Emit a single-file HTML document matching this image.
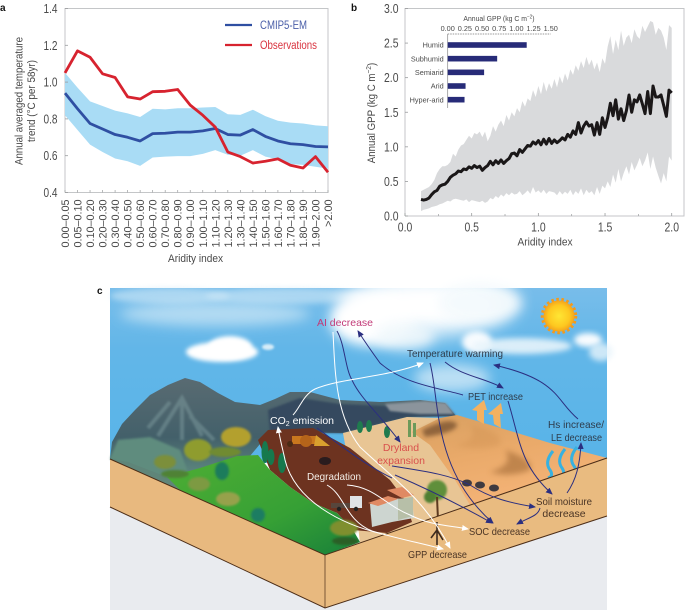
<!DOCTYPE html>
<html lang="en">
<head>
<meta charset="utf-8">
<title>Dryland aridity figure</title>
<style>
html,body{margin:0;padding:0;background:#fff;}
#root{position:relative;width:685px;height:610px;overflow:hidden;background:#fff;}
svg{position:absolute;left:0;top:0;}
text{font-family:"Liberation Sans",sans-serif;}
</style>
</head>
<body>
<div id="root">
<svg id="fig" width="685" height="610" viewBox="0 0 685 610" xmlns="http://www.w3.org/2000/svg">
<defs>
<filter id="b1" x="-30%" y="-30%" width="160%" height="160%"><feGaussianBlur stdDeviation="1"/></filter>
<filter id="b2" x="-30%" y="-30%" width="160%" height="160%"><feGaussianBlur stdDeviation="2"/></filter>
<filter id="b3" x="-30%" y="-30%" width="160%" height="160%"><feGaussianBlur stdDeviation="3"/></filter>
<filter id="b6" x="-30%" y="-50%" width="160%" height="200%"><feGaussianBlur stdDeviation="6"/></filter>
<filter id="b10" x="-30%" y="-60%" width="160%" height="220%"><feGaussianBlur stdDeviation="10"/></filter>
<linearGradient id="sky" x1="0" y1="0" x2="0" y2="1"><stop offset="0" stop-color="#78bdea"/><stop offset=".35" stop-color="#62b6e8"/><stop offset="1" stop-color="#58b4e8"/></linearGradient>
<linearGradient id="mt" x1="0" y1="0" x2="0" y2="1"><stop offset="0" stop-color="#596b72"/><stop offset=".6" stop-color="#43606a"/><stop offset="1" stop-color="#5f8a80"/></linearGradient>
<linearGradient id="grass" x1="0" y1="0" x2="1" y2="1"><stop offset="0" stop-color="#4fae34"/><stop offset=".6" stop-color="#36a035"/><stop offset="1" stop-color="#187f3a"/></linearGradient>
<linearGradient id="dune" x1="0" y1="0" x2="0.5" y2="1"><stop offset="0" stop-color="#d79f60"/><stop offset=".5" stop-color="#eaaa6a"/><stop offset="1" stop-color="#f5b478"/></linearGradient>
<radialGradient id="sun"><stop offset="0" stop-color="#ffe634"/><stop offset="0.7" stop-color="#fdc820"/><stop offset="1" stop-color="#f4a41c"/></radialGradient>
<marker id="ah-navy" markerWidth="7" markerHeight="6" refX="6" refY="3" orient="auto" markerUnits="userSpaceOnUse"><path d="M0 0L7 3L0 6z" fill="#2b2f80"/></marker>
<marker id="ah-white" markerWidth="7" markerHeight="6" refX="6" refY="3" orient="auto" markerUnits="userSpaceOnUse"><path d="M0 0L7 3L0 6z" fill="#fff"/></marker>
</defs>

<!-- Panel letters -->
<text x="0" y="11" font-size="10" font-weight="700" fill="#111">a</text>
<text x="351" y="11" font-size="10" font-weight="700" fill="#111">b</text>
<text x="97" y="294" font-size="10" font-weight="700" fill="#111">c</text>

<g id="panelA"></g>
<g id="panelB"></g>

<!-- Panel c illustration -->
<g id="panelC">
  <polygon points="110,507 325,608 607,516 607,610 110,610" fill="#e9ebef"/>
  <rect x="110" y="288" width="497" height="175" fill="url(#sky)"/>
  <g>
    <ellipse cx="215" cy="314" rx="95" ry="12" fill="#d6ecf8" opacity=".65" filter="url(#b6)"/>
    <ellipse cx="170" cy="296" rx="60" ry="8" fill="#cfe8f7" opacity=".6" filter="url(#b3)"/>
    <ellipse cx="285" cy="296" rx="80" ry="8" fill="#cfe8f7" opacity=".6" filter="url(#b3)"/>
    <ellipse cx="425" cy="305" rx="85" ry="30" fill="#fff" filter="url(#b10)"/>
    <ellipse cx="372" cy="320" rx="42" ry="26" fill="#fff" filter="url(#b6)"/>
    <ellipse cx="480" cy="303" rx="42" ry="20" fill="#f4fafd" opacity=".95" filter="url(#b6)"/>
    <ellipse cx="405" cy="336" rx="30" ry="14" fill="#f0f8fc" opacity=".9" filter="url(#b6)"/>
    <ellipse cx="477" cy="342" rx="15" ry="11" fill="#f7fbfe" filter="url(#b3)"/>
    <ellipse cx="522" cy="346" rx="50" ry="8" fill="#e8f4fb" opacity=".9" filter="url(#b3)"/>
    <ellipse cx="588" cy="340" rx="14" ry="7" fill="#f7fbfe" filter="url(#b3)"/>
    <ellipse cx="601" cy="352" rx="12" ry="9" fill="#e8f4fb" opacity=".8" filter="url(#b3)"/>
    <ellipse cx="452" cy="378" rx="38" ry="14" fill="#c4e3f6" opacity=".9" filter="url(#b6)"/>
    <ellipse cx="222" cy="352" rx="36" ry="10" fill="#fff" filter="url(#b2)"/>
    <ellipse cx="230" cy="347" rx="22" ry="11" fill="#fff" filter="url(#b2)"/>
    <ellipse cx="268" cy="347" rx="6" ry="3" fill="#d6ecf8" filter="url(#b1)"/>
  </g>
  <g>
    <circle cx="559" cy="316" r="16.5" fill="none" stroke="#f29a1c" stroke-width="3.5" stroke-dasharray="2.5 2.5"/>
    <circle cx="559" cy="316" r="15.5" fill="url(#sun)"/>
  </g>
  <polygon points="110,459 112,442 122,424 135,410 150,395 168,385 185,378 200,382 218,393 235,402 260,405 275,399 290,392 310,392 340,400 380,402 420,400 445,403 456,416 407,417 387,422 343,433 270,432 250,456 167,477" fill="url(#mt)"/>
  <polygon points="270,432 268,410 300,398 340,404 385,406 425,404 446,405 456,416 407,417 387,422 343,433" fill="#34495f" filter="url(#b1)"/>
  <polygon points="385,404 425,401 446,403 454,414 420,414 390,411" fill="#8b949c" filter="url(#b1)"/>
  <path d="M158 436 L182 398 L202 436 M190 416 L214 440 M148 428 L170 402 M182 398 L182 440" stroke="#84a2a4" stroke-width="4" fill="none" opacity=".45" filter="url(#b1)"/>
  <polygon points="110,459 118,440 150,437 180,450 190,478 165,478" fill="#5f8c7e" filter="url(#b1)"/>
  <polygon points="343,433 387,422 407,417 440,418 450,440 470,490 470,505 412,525 387,534 360,543 355,500" fill="#e8c594"/>
  <polygon points="412,432 440,418 457,415 507,430 550,443 607,458 470,505 455,480 430,445" fill="url(#dune)"/>
  <path d="M422 430 Q450 416 457 424 Q458 432 425 437z" fill="#7d5530" opacity=".8" filter="url(#b2)"/>
  <path d="M505 450 Q535 460 530 470 Q510 478 490 472 Q515 465 505 450z" fill="#a86f3a" opacity=".65" filter="url(#b3)"/>
  <path d="M470 425 Q505 432 500 445 Q480 452 455 445 Q480 440 470 425z" fill="#c98a4c" opacity=".3" filter="url(#b3)"/>
  <polygon points="258,440 268,430 313,428 350,448 390,480 405,500 412,522 387,533 353,530 337,513 313,503 290,487 270,470" fill="#6d3320"/>
  <polygon points="167,477 200,468 237,456 258,455 270,470 290,487 313,503 337,513 353,530 360,542 325,555 172,487" fill="url(#grass)"/>
  <polygon points="110,459 128,462 167,477 180,490 172,487" fill="#5f8579"/>
  <g>
    <ellipse cx="198" cy="450" rx="14" ry="11" fill="#8f9c2e" filter="url(#b1)"/>
    <ellipse cx="236" cy="437" rx="15" ry="10" fill="#b3a02e" filter="url(#b1)"/>
    <ellipse cx="225" cy="452" rx="16" ry="5" fill="#6f8b30" filter="url(#b1)"/>
    <ellipse cx="165" cy="462" rx="11" ry="7" fill="#7c8f3a" filter="url(#b1)"/>
    <ellipse cx="175" cy="474" rx="14" ry="4" fill="#4f8236" filter="url(#b1)"/>
    <ellipse cx="222" cy="471" rx="7" ry="9" fill="#1d7c5c" filter="url(#b1)"/>
    <circle cx="258" cy="515" r="7" fill="#1f7d62" filter="url(#b1)"/>
    <ellipse cx="199" cy="484" rx="11" ry="7" fill="#7d9a42" filter="url(#b1)"/>
    <ellipse cx="228" cy="499" rx="12" ry="7" fill="#96a14c" filter="url(#b1)"/>
    <ellipse cx="265" cy="452" rx="3.5" ry="11" fill="#16794d"/>
    <ellipse cx="271" cy="457" rx="3.5" ry="8" fill="#16794d"/>
    <ellipse cx="282" cy="463" rx="4" ry="10" fill="#16794d"/>
    <ellipse cx="360" cy="427" rx="3" ry="6" fill="#1f7b4e"/>
    <ellipse cx="369" cy="426" rx="3" ry="6" fill="#1f7b4e"/>
    <ellipse cx="387" cy="432" rx="3" ry="6" fill="#1f7b4e"/>
    <rect x="408" y="420" width="3" height="17" fill="#6d9a5a"/>
    <rect x="413" y="423" width="3" height="14" fill="#6d9a5a"/>
    <ellipse cx="344" cy="528" rx="14" ry="8" fill="#7f8f2f" filter="url(#b1)"/>
    <ellipse cx="345" cy="541" rx="13" ry="4" fill="#2a5f26" filter="url(#b1)"/>
  </g>
  <g>
    <rect x="292" y="436" width="24" height="8" fill="#c9771e"/>
    <circle cx="306" cy="441" r="6" fill="#b5641a"/>
    <circle cx="290" cy="444" r="3" fill="#4a2a14"/>
    <polygon points="316,435 330,446 314,446" fill="#d9a02e"/>
  </g>
  <ellipse cx="325" cy="461" rx="6" ry="4" fill="#2a1c1e"/>
  <g>
    <rect x="331" y="503" width="19" height="5" fill="#57463c"/>
    <rect x="350" y="496" width="12" height="12" fill="#dfe3e6"/>
    <circle cx="356" cy="509" r="2.2" fill="#222"/>
    <circle cx="339" cy="509" r="2.2" fill="#222"/>
  </g>
  <g>
    <polygon points="370,504 392,498 412,500 414,518 392,522 372,527" fill="#cdd5d0"/>
    <polygon points="368,503 388,496 398,499 378,506" fill="#e08a63"/>
    <polygon points="387,490 402,487 414,495 402,498" fill="#e08a63"/>
    <polygon points="398,499 413,497 413,516 398,520" fill="#b7bfa8"/>
  </g>
  <g>
    <circle cx="437" cy="490" r="10" fill="#5f8f3a" filter="url(#b1)"/>
    <circle cx="430" cy="497" r="6" fill="#4f7f33" filter="url(#b1)"/>
    <path d="M437 497 L438 520" stroke="#5d3a20" stroke-width="2"/>
  </g>
  <g fill="#3f3a40">
    <ellipse cx="467" cy="483" rx="5" ry="3.5"/><ellipse cx="480" cy="485" rx="5" ry="3.5"/><ellipse cx="494" cy="488" rx="5" ry="3.5"/>
  </g>
  <g>
    <path d="M484 400 L472 410 L477 411 L477 420 L484 424 L484 410 L487 410z" fill="#f3b160"/>
    <path d="M501 403 L488 414 L493 415 L494 424 L501 428 L500 414 L503 414z" fill="#f3b160"/>
  </g>
  <g stroke="#37b1e0" stroke-width="3" fill="none">
    <path d="M553 451 Q544 462 550 470 Q554 476 548 478"/>
    <path d="M565 449 Q556 460 562 468 Q566 474 560 477"/>
    <path d="M577 447 Q568 458 574 466 Q578 472 572 475"/>
  </g>
  <polygon points="110,459 325,555 325,608 110,507" fill="#e8b97f"/>
  <polygon points="325,555 607,458 607,516 325,608" fill="#e9bb80"/>
  <g stroke="#4c2d17" fill="none">
    <path d="M110 459 L325 555 L607 458" stroke-width="1"/>
    <path d="M110 507 L325 608 L607 516" stroke-width="1"/>
    <path d="M325 555 L325 608" stroke-width=".7"/>
  </g>
  <path d="M437 522 L437 545 M437 530 L431 538 M437 530 L443 540" stroke="#3d2a1e" stroke-width="1.6" fill="none"/>

  <g fill="none" stroke="#2b2f80" stroke-width="1">
    <path d="M463 395 C440 388 405 385 380 363 C372 352 365 342 358 331" marker-end="url(#ah-navy)"/>
    <path d="M337 331 C345 345 345 368 352 380 C360 398 380 415 400 442" marker-end="url(#ah-navy)"/>
    <path d="M445 362 C462 376 485 378 503 388" marker-end="url(#ah-navy)"/>
    <path d="M430 363 C440 400 432 470 493 523" marker-end="url(#ah-navy)"/>
    <path d="M508 401 C520 440 520 465 552 494" marker-end="url(#ah-navy)"/>
    <path d="M567 493 C576 480 580 465 581 443" marker-end="url(#ah-navy)"/>
    <path d="M578 419 C555 400 560 380 494 365" marker-end="url(#ah-navy)"/>
    <path d="M540 508 C538 516 530 517 517 524" marker-end="url(#ah-navy)"/>
    <path d="M392 466 C430 472 450 475 470 485 C490 498 510 503 535 507" marker-end="url(#ah-navy)"/>
    <path d="M395 475 C430 490 460 505 492 523" marker-end="url(#ah-navy)"/>
    <path d="M317 428 C340 445 365 465 392 478"/>
  </g>
  <g fill="none" stroke="#fff" stroke-width="1">
    <path d="M293 415 C300 408 303 395 315 389 C340 378 385 378 423 363" marker-end="url(#ah-white)"/>
    <path d="M333 332 C335 370 335 415 360 447 C395 480 425 500 450 548" marker-end="url(#ah-white)"/>
    <path d="M327 485 C345 495 345 520 372 531 C395 538 420 543 443 549" marker-end="url(#ah-white)"/>
    <path d="M347 485 C375 487 385 505 410 515 C430 525 445 525 468 529" marker-end="url(#ah-white)"/>
    <path d="M387 535 C340 525 295 500 285 460 C283 450 280 440 278 427" marker-end="url(#ah-white)"/>
  </g>
  <g font-size="10.5">
    <text x="345" y="326" text-anchor="middle" fill="#c23a78">AI decrease</text>
    <text x="407" y="357" fill="#2e3c4c" textLength="96" lengthAdjust="spacingAndGlyphs">Temperature warming</text>
    <text x="468" y="400" fill="#2e3c4c" textLength="55" lengthAdjust="spacingAndGlyphs">PET increase</text>
    <text x="548" y="428" fill="#2e3c4c" textLength="56" lengthAdjust="spacingAndGlyphs">Hs increase/</text>
    <text x="551" y="441" fill="#2e3c4c" textLength="51" lengthAdjust="spacingAndGlyphs">LE decrease</text>
    <text x="401" y="451" text-anchor="middle" fill="#d9504c">Dryland</text>
    <text x="401" y="464" text-anchor="middle" fill="#d9504c">expansion</text>
    <text x="270" y="424" fill="#fff">CO<tspan font-size="7" dy="2">2</tspan><tspan dy="-2"> emission</tspan></text>
    <text x="307" y="480" fill="#f4efe8" textLength="54" lengthAdjust="spacingAndGlyphs">Degradation</text>
    <text x="536" y="505" fill="#4a3424" textLength="56" lengthAdjust="spacingAndGlyphs">Soil moisture</text>
    <text x="564" y="517" text-anchor="middle" fill="#4a3424">decrease</text>
    <text x="469" y="535" fill="#4a3424" textLength="61" lengthAdjust="spacingAndGlyphs">SOC decrease</text>
    <text x="408" y="558" fill="#4a3424" textLength="59" lengthAdjust="spacingAndGlyphs">GPP decrease</text>
  </g>
</g>
</svg>
</div>
<script>
// Panel a data
const aCategories = ["0.00–0.05","0.05–0.10","0.10–0.20","0.20–0.30","0.30–0.40","0.40–0.50","0.50–0.60","0.60–0.70","0.70–0.80","0.80–0.90","0.90–1.00","1.00–1.10","1.10–1.20","1.20–1.30","1.30–1.40","1.40–1.50","1.50–1.60","1.60–1.70","1.70–1.80","1.80–1.90","1.90–2.00",">2.00"];
const cmipMean = [0.94,0.855,0.775,0.745,0.715,0.70,0.68,0.72,0.722,0.728,0.728,0.735,0.748,0.715,0.712,0.742,0.705,0.68,0.665,0.66,0.65,0.648];
const cmipUpper = [1.05,0.97,0.895,0.87,0.845,0.83,0.81,0.855,0.852,0.858,0.858,0.862,0.865,0.825,0.822,0.85,0.815,0.79,0.78,0.775,0.765,0.76];
const cmipLower = [0.82,0.74,0.66,0.62,0.585,0.57,0.545,0.59,0.595,0.598,0.598,0.61,0.63,0.605,0.60,0.63,0.595,0.58,0.555,0.55,0.54,0.53];
const observations = [1.05,1.17,1.135,1.045,1.025,0.92,0.908,0.948,0.95,0.96,0.875,0.82,0.755,0.62,0.595,0.56,0.57,0.583,0.548,0.533,0.595,0.51];
const aYTicks = ["0.4","0.6","0.8","1.0","1.2","1.4"];

// Panel b data
const gppAridity = [0.12,0.14,0.16,0.18,0.20,0.22,0.24,0.26,0.28,0.30,0.32,0.34,0.36,0.38,0.40,0.42,0.44,0.46,0.48,0.50,0.52,0.54,0.56,0.58,0.60,0.62,0.64,0.66,0.68,0.70,0.72,0.74,0.76,0.78,0.80,0.82,0.84,0.86,0.88,0.90,0.92,0.94,0.96,0.98,1.00,1.02,1.04,1.06,1.08,1.10,1.12,1.14,1.16,1.18,1.20,1.22,1.24,1.26,1.28,1.30,1.32,1.34,1.36,1.38,1.40,1.42,1.44,1.46,1.48,1.50,1.52,1.54,1.56,1.58,1.60,1.62,1.64,1.66,1.68,1.70,1.72,1.74,1.76,1.78,1.80,1.82,1.84,1.86,1.88,1.90,1.92,1.94,1.96,1.98,2.00];
const gppMean = [0.24,0.23,0.24,0.26,0.31,0.35,0.37,0.43,0.45,0.46,0.50,0.56,0.59,0.61,0.65,0.64,0.68,0.67,0.71,0.69,0.73,0.70,0.72,0.66,0.70,0.73,0.79,0.74,0.80,0.76,0.81,0.76,0.80,0.83,0.90,0.91,0.87,0.96,0.92,0.97,1.02,1.01,1.07,1.04,1.09,1.03,1.11,1.04,1.12,1.05,1.10,1.06,1.09,1.13,1.10,1.18,1.14,1.23,1.18,1.35,1.20,1.30,1.36,1.30,1.32,1.17,1.35,1.18,1.42,1.28,1.42,1.63,1.45,1.68,1.40,1.55,1.38,1.52,1.75,1.50,1.68,1.65,1.75,1.62,1.48,1.80,1.48,1.88,1.72,1.72,1.75,1.60,1.44,1.82,1.78];
const gppUpper = [0.36,0.38,0.40,0.42,0.46,0.52,0.62,0.68,0.72,0.72,0.74,0.78,0.90,0.86,0.96,1.02,1.04,1.10,1.16,1.12,1.20,1.18,1.22,1.14,1.22,1.08,1.16,1.30,1.22,1.32,1.38,1.30,1.46,1.38,1.50,1.44,1.56,1.50,1.66,1.58,1.70,1.66,1.82,1.72,1.88,1.76,1.94,1.80,1.92,1.84,1.98,1.86,2.02,1.92,2.06,1.96,2.12,2.04,2.18,2.10,2.24,2.14,2.30,2.18,2.26,2.12,2.22,2.08,2.28,2.20,2.45,2.60,2.34,2.55,2.40,2.68,2.46,2.58,2.62,2.50,2.70,2.60,2.56,2.75,2.66,2.74,2.82,2.80,2.62,2.72,2.68,2.58,2.40,2.76,2.72];
const gppLower = [0.07,0.09,0.10,0.11,0.13,0.14,0.15,0.17,0.18,0.20,0.22,0.21,0.24,0.25,0.24,0.23,0.22,0.24,0.20,0.23,0.22,0.21,0.20,0.22,0.19,0.21,0.26,0.24,0.29,0.26,0.31,0.28,0.33,0.30,0.34,0.31,0.32,0.36,0.30,0.33,0.37,0.32,0.42,0.34,0.37,0.33,0.38,0.32,0.36,0.35,0.34,0.30,0.36,0.31,0.35,0.32,0.38,0.30,0.36,0.32,0.40,0.30,0.38,0.33,0.36,0.30,0.42,0.32,0.44,0.40,0.50,0.42,0.60,0.48,0.68,0.50,0.62,0.72,0.60,0.78,0.66,0.74,0.84,0.72,0.80,0.92,0.68,0.86,0.70,0.58,0.47,0.62,0.50,0.86,0.80];
const bXTicks = ["0.0","0.5","1.0","1.5","2.0"];
const bYTicks = ["0.0","0.5","1.0","1.5","2.0","2.5","3.0"];

// Inset data
const insetCategories = ["Humid","Subhumid","Semiarid","Arid","Hyper-arid"];
const insetValues = [1.15,0.72,0.53,0.26,0.245];
const insetTicks = ["0.00","0.25","0.50","0.75","1.00","1.25","1.50"];

const NS = "http://www.w3.org/2000/svg";
function mk(parent, tag, attrs, txt) {
  const el = document.createElementNS(NS, tag);
  for (const k in attrs) el.setAttribute(k, attrs[k]);
  if (txt !== undefined) el.textContent = txt;
  parent.appendChild(el);
  return el;
}
function pathOf(xs, ys) {
  return xs.map((x, i) => (i ? "L" : "M") + x.toFixed(2) + " " + ys[i].toFixed(2)).join(" ");
}

/* ---------- Panel a ---------- */
const pa = document.getElementById("panelA");
const aLeft = 65, aRight = 328, aTop = 8.5, aBottom = 192.5;
const xA = i => aLeft + i * (aRight - aLeft) / (aCategories.length - 1);
const yA = v => aBottom - (v - 0.4) * (aBottom - aTop) / 1.0;

const aFrame = mk(pa, "path", {d:`M${aLeft} ${aBottom} V${aTop} H${aRight} V${aBottom} H${aLeft}`, fill:"none", stroke:"#c4c6c8", "stroke-width":1});



const aIdx = cmipUpper.map((_, i) => i);
const aBand = mk(pa, "path", {d: pathOf(aIdx.map(xA), cmipUpper.map(yA)) + " " + pathOf(aIdx.slice().reverse().map(xA), cmipLower.slice().reverse().map(yA)).replace("M","L") + " Z", fill:"#a9dcf5"});



const aMean = mk(pa, "path", {d: pathOf(aIdx.map(xA), cmipMean.map(yA)), fill:"none", stroke:"#2f4fa2", "stroke-width":2.8, "stroke-linejoin":"round"});



const aObs = mk(pa, "path", {d: pathOf(aIdx.map(xA), observations.map(yA)), fill:"none", stroke:"#d7232f", "stroke-width":2.8, "stroke-linejoin":"round"});



aYTicks.forEach(t => {
  const y = yA(parseFloat(t));
  const tk = mk(pa, "line", {x1:aLeft, x2:aLeft+3, y1:y, y2:y, stroke:"#9a9c9e", "stroke-width":0.8});
  
  
  const lb = mk(pa, "text", {x:aLeft-21.5, y:y+4.5, "font-size":12.5, fill:"#4a4a4a", textLength:14, lengthAdjust:"spacingAndGlyphs"}, t);
  
  
});
aCategories.forEach((c, i) => {
  const x = xA(i);
  const tk = mk(pa, "line", {x1:x, x2:x, y1:aBottom, y2:aBottom-2.5, stroke:"#9a9c9e", "stroke-width":0.7});
  
  
  const lb = mk(pa, "text", {x:x+4, y:aBottom+7, "text-anchor":"end", "font-size":10.8, fill:"#4a4a4a", transform:`rotate(-90 ${x+4} ${aBottom+7})`}, c);
  
  
});
const aXT = mk(pa, "text", {x:168, y:262, "font-size":11, fill:"#4a4a4a", textLength:55, lengthAdjust:"spacingAndGlyphs"}, "Aridity index");


const aY1 = mk(pa, "text", {x:22.5, y:165, "font-size":11, fill:"#4a4a4a", textLength:128, lengthAdjust:"spacingAndGlyphs", transform:"rotate(-90 22.5 165)"}, "Annual averaged temperature");


const aY2 = mk(pa, "text", {x:35, y:142, "font-size":11, fill:"#4a4a4a", textLength:82, lengthAdjust:"spacingAndGlyphs", transform:"rotate(-90 35 142)"}, "trend (°C per 58yr)");



const lg1 = mk(pa, "line", {x1:225, x2:252, y1:25, y2:25, stroke:"#2f4fa2", "stroke-width":2.2});


const lg1t = mk(pa, "text", {x:260, y:29, "font-size":11.5, fill:"#4a5ea8", textLength:47, lengthAdjust:"spacingAndGlyphs"}, "CMIP5-EM");


const lg2 = mk(pa, "line", {x1:225, x2:252, y1:45, y2:45, stroke:"#d7232f", "stroke-width":2.2});


const lg2t = mk(pa, "text", {x:260, y:49, "font-size":11.5, fill:"#d9333f", textLength:57, lengthAdjust:"spacingAndGlyphs"}, "Observations");



/* ---------- Panel b ---------- */
const pb = document.getElementById("panelB");
const bLeft = 405, bRight = 684, bTop = 8.5, bBottom = 216;
const xB = v => bLeft + v * 133.35;
const yB = v => bBottom - v * (bBottom - bTop) / 3;

const bFrame = mk(pb, "path", {d:`M${bLeft} ${bBottom} V${bTop} H${bRight} V${bBottom} H${bLeft}`, fill:"none", stroke:"#c4c6c8", "stroke-width":1});



const bBand = mk(pb, "path", {d: pathOf(gppAridity.map(xB), gppUpper.map(yB)) + " " + pathOf(gppAridity.slice().reverse().map(xB), gppLower.slice().reverse().map(yB)).replace("M","L") + " Z", fill:"#d9dadc"});



const bMean = mk(pb, "path", {d: pathOf(gppAridity.map(xB), gppMean.map(yB)), fill:"none", stroke:"#1a1718", "stroke-width":3, "stroke-linejoin":"round"});



bYTicks.forEach(t => {
  const y = yB(parseFloat(t));
  const tk = mk(pb, "line", {x1:bLeft, x2:bLeft+3, y1:y, y2:y, stroke:"#9a9c9e", "stroke-width":0.8});
  
  
  const lb = mk(pb, "text", {x:bLeft-21, y:y+4.5, "font-size":12.5, fill:"#4a4a4a", textLength:14.5, lengthAdjust:"spacingAndGlyphs"}, t);
  
  
});
bXTicks.forEach(t => {
  const v = parseFloat(t);
  const tk = mk(pb, "line", {x1:xB(v), x2:xB(v), y1:bBottom, y2:bBottom-3, stroke:"#9a9c9e", "stroke-width":0.8});
  
  
  const mv = v + 0.25;
  if (mv < 2) {
    const mt = mk(pb, "line", {x1:xB(mv), x2:xB(mv), y1:bBottom, y2:bBottom-2, stroke:"#9a9c9e", "stroke-width":0.7});
    
    
  }
  const lb = mk(pb, "text", {x:xB(v)-7.2, y:bBottom+15.5, "font-size":12.5, fill:"#4a4a4a", textLength:14.5, lengthAdjust:"spacingAndGlyphs"}, t);
  
  
});
const bXT = mk(pb, "text", {x:517.5, y:245.5, "font-size":11, fill:"#4a4a4a", textLength:55, lengthAdjust:"spacingAndGlyphs"}, "Aridity index");


const bYT = mk(pb, "text", {"text-anchor":"middle", "font-size":11, fill:"#4a4a4a", transform:"translate(375 113) rotate(-90) scale(.88 1)"});


bYT.innerHTML = 'Annual GPP (kg  C m<tspan dy="-4" font-size="7.5">−2</tspan><tspan dy="4">)</tspan>';

/* Inset */
const inX = v => 447.7 + v * 68.7;
const inY = i => 45 + i * 13.67;
const inTop = mk(pb, "line", {x1:inX(0), x2:inX(1.5), y1:34, y2:34, stroke:"#777", "stroke-width":0.7, "stroke-dasharray":"1.5 1"});


const inLeft = mk(pb, "line", {x1:inX(0), x2:inX(0), y1:34, y2:108, stroke:"#888", "stroke-width":0.7});


insetTicks.forEach(t => {
  const lb = mk(pb, "text", {x:inX(parseFloat(t)), y:31, "text-anchor":"middle", "font-size":7.3, fill:"#4a4a4a"}, t);
  
  
});
const inT = mk(pb, "text", {"text-anchor":"middle", "font-size":7.3, fill:"#4a4a4a", transform:"translate(499 21) scale(.94 1)"});


inT.innerHTML = 'Annual GPP (kg C m<tspan dy="-2.5" font-size="5">−2</tspan><tspan dy="2.5">)</tspan>';
insetCategories.forEach((c, i) => {
  const bar = mk(pb, "rect", {x:inX(0), y:inY(i)-2.8, width:inX(insetValues[i])-inX(0), height:5.6, fill:"#272b78"});
  
  
  const lb = mk(pb, "text", {x:inX(0)-4, y:inY(i)+2.6, "text-anchor":"end", "font-size":7.3, fill:"#4a4a4a"}, c);
  
  
});
</script>
</body>
</html>
